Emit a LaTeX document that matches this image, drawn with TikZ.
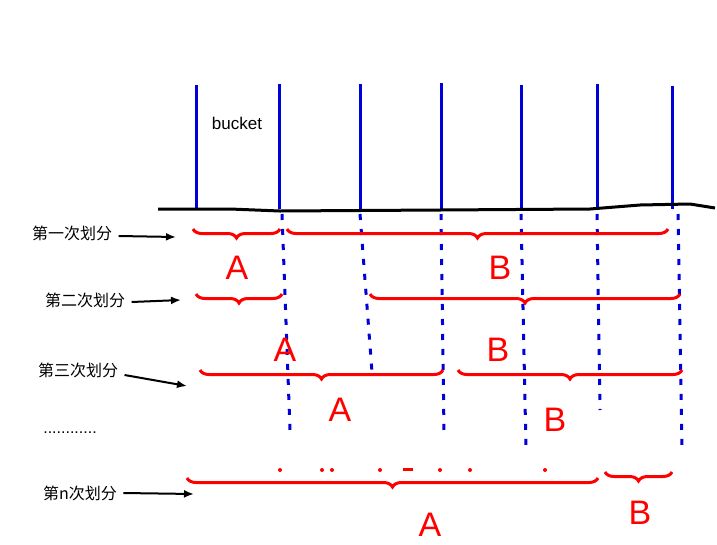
\documentclass[tikz,border=0pt]{standalone}
\usepackage{fontspec}
\setmainfont{Liberation Sans}
\newfontfamily\cjk{Noto Sans CJK SC}
\usetikzlibrary{decorations.pathreplacing,arrows.meta}
\begin{document}
\begin{tikzpicture}[x=1pt,y=-1pt,
  bl/.style={blue!85!black,line width=3pt},
  bd/.style={blue!85!black,line width=3pt,dash pattern=on 6pt off 9pt},
  br/.style={red,line width=3pt,decorate,decoration={brace,mirror,amplitude=9pt}},
  lt/.style={red,font=\fontsize{34}{34}\selectfont},
  lab/.style={font=\cjk\fontsize{16}{16}\selectfont},
  arr/.style={-{Latex[length=10pt,width=8pt]},line width=2pt}]
\useasboundingbox (0,0) rectangle (717,544);
\fill[white] (0,0) rectangle (717,544);
\foreach \x/\y in {196/85,279/84,360/84,441/83,521/85,597/84,672/86}{
  \draw[bl] (\x,\y) -- (\x,209);}
\draw[line width=3pt] (158,209) -- (230,209) -- (280,211) -- (440,210) -- (590,209) -- (640,205) -- (690,204) -- (715,208);
\node (bk) at (237,123) {\fontsize{17}{17}\selectfont bucket};
\draw[bd] (282,214) -- (290,430);
\draw[bd] (360,214) -- (372,372);
\draw[bd] (441,214) -- (444,432);
\draw[bd] (521,214) -- (526,448);
\draw[bd] (597,214) -- (600,410);
\draw[bd] (678,214) -- (682,450);
\node[lab] (l1) at (72,233) {第一次划分};
\node[lab] (l2) at (85,300) {第二次划分};
\node[lab] (l3) at (78,370) {第三次划分};
\node[font=\fontsize{16}{16}\selectfont] (dots) at (70,433) {............};
\node[lab] (ln) at (80,493) {第n次划分};
\coordinate (t1) at (176,237);
\coordinate (t2) at (181,300);
\coordinate (t3) at (187,386);
\coordinate (tn) at (194,494);
\draw[arr] (l1.east) ++(3,3) -- (t1);
\draw[arr] (l2.east) ++(3,2) -- (t2);
\draw[arr] (l3.east) ++(3,5) -- (t3);
\draw[arr] (ln.east) ++(3,0) -- (tn);
\draw[br] (193,229) -- (280,229);
\draw[br] (287,229) -- (668,229);
\node[lt] (a1) at (237,268) {A};
\node[lt] (b1) at (500,268) {B};
\draw[br] (196,294) -- (282,294);
\draw[br] (370,294) -- (680,294);
\node[lt] (a2) at (285,350) {A};
\node[lt] (b2) at (498,350) {B};
\draw[br] (200,370) -- (443,370);
\draw[br] (458,370) -- (682,370);
\node[lt] (a3) at (340,410) {A};
\node[lt] (b3) at (555,420) {B};
\foreach \x in {280,322,332,380,440,470,545}{\fill[red] (\x,470) circle (2pt);}
\draw[red,line width=3pt] (403,469) -- (413,469);
\draw[br] (187,478) -- (598,478);
\draw[br] (605,472) -- (672,472);
\node[lt] (an) at (430,525) {A};
\node[lt] (bn) at (640,513) {B};
\end{tikzpicture}
\end{document}
